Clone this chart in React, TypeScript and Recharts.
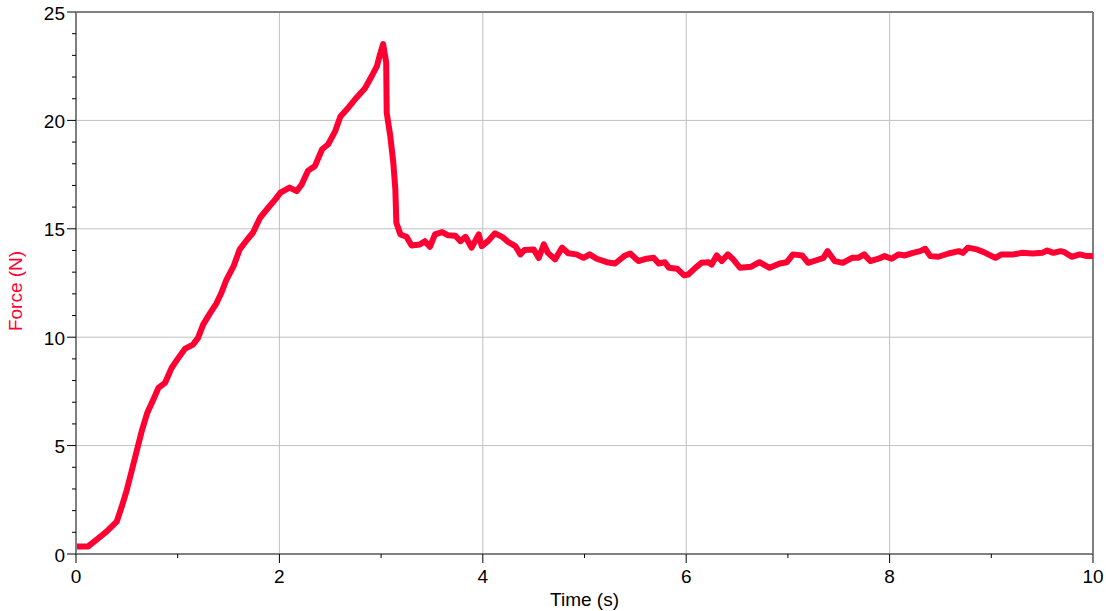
import { LineChart, Line, XAxis, YAxis, CartesianGrid, ReferenceLine, Label } from "recharts";

const timeValues = [
  0, 0.12, 0.2, 0.3, 0.4, 0.45, 0.5, 0.55, 0.6, 0.65, 0.7, 0.76, 0.81, 0.875, 0.94, 1.0,
  1.07, 1.15, 1.2, 1.25, 1.32, 1.38, 1.43, 1.48, 1.55, 1.61, 1.69, 1.74, 1.81, 1.89, 1.96,
  2.01, 2.1, 2.17, 2.22, 2.28, 2.35, 2.42, 2.48, 2.55, 2.6, 2.68, 2.76, 2.84, 2.91, 2.96,
  2.99, 3.02, 3.05, 3.055, 3.09, 3.12, 3.14, 3.15, 3.19, 3.25, 3.3, 3.38, 3.43, 3.48, 3.53,
  3.6, 3.66, 3.73, 3.78, 3.83, 3.89, 3.96, 3.99, 4.05, 4.12, 4.19, 4.25, 4.32, 4.37, 4.41,
  4.5, 4.55, 4.6, 4.64, 4.71, 4.78, 4.84, 4.92, 4.99, 5.05, 5.12, 5.22, 5.3, 5.4, 5.45,
  5.53, 5.61, 5.68, 5.73, 5.79, 5.83, 5.91, 5.98, 6.02, 6.09, 6.15, 6.22, 6.25, 6.3, 6.35,
  6.41, 6.46, 6.53, 6.64, 6.72, 6.82, 6.92, 6.99, 7.05, 7.14, 7.2, 7.28, 7.35, 7.39, 7.46,
  7.54, 7.63, 7.69, 7.75, 7.81, 7.89, 7.95, 8.02, 8.09, 8.15, 8.23, 8.3, 8.35, 8.4, 8.48,
  8.58, 8.68, 8.72, 8.77, 8.86, 8.94, 9.04, 9.1, 9.22, 9.3, 9.41, 9.5, 9.55, 9.61, 9.68,
  9.72, 9.79, 9.87, 9.94, 10.0,
];

const forceValues = [
  0.35, 0.35, 0.65, 1.03, 1.49, 2.19, 2.96, 3.88, 4.81, 5.73, 6.5, 7.12, 7.66, 7.89, 8.58, 9.0,
  9.46, 9.66, 9.97, 10.58, 11.12, 11.55, 12.05, 12.66, 13.28, 14.05, 14.54, 14.82, 15.51, 15.97, 16.36,
  16.67, 16.9, 16.74, 17.05, 17.67, 17.9, 18.67, 18.9, 19.52, 20.18, 20.6, 21.06, 21.47, 22.06, 22.52,
  23.06, 23.52, 22.67, 20.36, 19.29, 18.05, 16.82, 15.28, 14.74, 14.63, 14.23, 14.28, 14.43, 14.17, 14.74,
  14.85, 14.7, 14.68, 14.43, 14.63, 14.13, 14.74, 14.2, 14.43, 14.79, 14.63, 14.39, 14.2, 13.82, 14.02,
  14.05, 13.66, 14.28, 13.89, 13.59, 14.13, 13.87, 13.82, 13.66, 13.82, 13.62, 13.46, 13.4, 13.77, 13.86,
  13.51, 13.62, 13.66, 13.4, 13.46, 13.2, 13.16, 12.85, 12.89, 13.2, 13.43, 13.46, 13.35, 13.77, 13.51,
  13.82, 13.6, 13.2, 13.25, 13.46, 13.2, 13.4, 13.46, 13.82, 13.77, 13.43, 13.55, 13.66, 13.97, 13.51,
  13.43, 13.66, 13.66, 13.82, 13.51, 13.62, 13.74, 13.62, 13.82, 13.77, 13.89, 13.97, 14.08, 13.74, 13.71,
  13.86, 13.97, 13.89, 14.13, 14.05, 13.89, 13.66, 13.82, 13.82, 13.89, 13.86, 13.89, 14.0, 13.89, 13.97,
  13.92, 13.71, 13.82, 13.74, 13.74,
];

const xTicks = [0, 1, 2, 3, 4, 5, 6, 7, 8, 9, 10];
const yTicks = [0, 1, 2, 3, 4, 5, 6, 7, 8, 9, 10, 11, 12, 13, 14, 15, 16, 17, 18, 19, 20, 21, 22, 23, 24, 25];
const xMajor = [0, 2, 4, 6, 8, 10];
const yMajor = [0, 5, 10, 15, 20, 25];

const data = timeValues.map((t, i) => ({ t, f: forceValues[i] }));

const FONT = "'Liberation Sans', Arial, sans-serif";
const RED = "#ff0033";

function XTick(props: any) {
  const { x, y, payload } = props;
  const major = xMajor.includes(payload.value);
  return (
    <g>
      <line x1={x} y1={y} x2={x} y2={y + (major ? 9 : 4)} stroke="#000" strokeWidth={1} />
      {major && (
        <text x={x} y={y + 29} textAnchor="middle" fontSize={19} fontFamily={FONT} fill="#000">
          {payload.value}
        </text>
      )}
    </g>
  );
}

function YTick(props: any) {
  const { x, y, payload } = props;
  const major = yMajor.includes(payload.value);
  return (
    <g>
      <line x1={x - (major ? 9 : 4)} y1={y} x2={x} y2={y} stroke="#000" strokeWidth={1} />
      {major && (
        <text x={x - 11} y={y + 7.5} textAnchor="end" fontSize={19} fontFamily={FONT} fill="#000">
          {payload.value}
        </text>
      )}
    </g>
  );
}

export default function App() {
  return (
    <div style={{ position: "absolute", left: 0, top: 0, background: "#fff" }}>
      <LineChart width={1106} height={611} data={data} margin={{ top: 12, right: 13, bottom: 0, left: 0 }}>
        <CartesianGrid
          stroke="#c0c0c0"
          strokeWidth={1}
          horizontalValues={yMajor}
          verticalValues={xMajor}
        />
        <XAxis
          dataKey="t"
          type="number"
          domain={[0, 10]}
          ticks={xTicks}
          interval={0}
          height={57}
          tickSize={0}
          tickMargin={0}
          tickLine={false}
          axisLine={{ stroke: "#808080", strokeWidth: 2 }}
          tick={<XTick />}
          allowDataOverflow
        >
          <Label
            value="Time (s)"
            position="insideBottom"
            offset={5}
            style={{ fontSize: 19, fontFamily: FONT, fill: "#000" }}
          />
        </XAxis>
        <YAxis
          type="number"
          domain={[0, 25]}
          ticks={yTicks}
          interval={0}
          width={76}
          tickSize={0}
          tickMargin={0}
          tickLine={false}
          axisLine={{ stroke: "#808080", strokeWidth: 2 }}
          tick={<YTick />}
          allowDataOverflow
        >
          <Label
            content={(p: any) => {
              const vb = p.viewBox || { x: 0, y: 12, width: 76, height: 542 };
              const cx = vb.x + 15;
              const cy = vb.y + vb.height / 2 + 8;
              return (
                <text
                  x={cx}
                  y={cy}
                  transform={`rotate(-90 ${cx} ${cy})`}
                  textAnchor="middle"
                  dominantBaseline="central"
                  fontSize={19}
                  fontFamily={FONT}
                  fill={RED}
                >
                  Force (N)
                </text>
              );
            }}
          />
        </YAxis>
        <ReferenceLine y={25} stroke="#808080" strokeWidth={2} />
        <ReferenceLine x={10} stroke="#808080" strokeWidth={2} />
        <Line
          type="linear"
          dataKey="f"
          stroke={RED}
          strokeWidth={6}
          dot={false}
          strokeLinejoin="round"
          strokeLinecap="round"
          isAnimationActive={false}
        />
      </LineChart>
    </div>
  );
}
